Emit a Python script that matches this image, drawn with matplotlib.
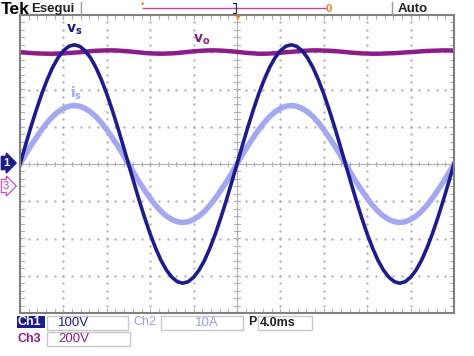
import numpy as np
import matplotlib.pyplot as plt

plt.rcParams['font.family'] = ['Liberation Sans', 'DejaVu Sans']

# scope readings, one sample per 0.5 ms (0..40 ms)
t_ms = np.arange(0, 40.01, 0.5)
vs_volt = [0, 50, 99, 145, 188, 226, 259, 285, 304, 316, 320, 316, 304, 285, 259, 226, 188, 145, 99, 50,
           0, -50, -99, -145, -188, -226, -259, -285, -304, -316, -320, -316, -304, -285, -259, -226, -188, -145, -99, -50,
           0, 50, 99, 145, 188, 226, 259, 285, 304, 316, 320, 316, 304, 285, 259, 226, 188, 145, 99, 50,
           0, -50, -99, -145, -188, -226, -259, -285, -304, -316, -320, -316, -304, -285, -259, -226, -188, -145, -99, -50,
           0]
is_amp = [0, 2.5, 4.9, 7.1, 9.2, 11.1, 12.7, 14.0, 14.9, 15.5, 15.7, 15.5, 14.9, 14.0, 12.7, 11.1, 9.2, 7.1, 4.9, 2.5,
          0, -2.5, -4.9, -7.1, -9.2, -11.1, -12.7, -14.0, -14.9, -15.5, -15.7, -15.5, -14.9, -14.0, -12.7, -11.1, -9.2, -7.1, -4.9, -2.5,
          0, 2.5, 4.9, 7.1, 9.2, 11.1, 12.7, 14.0, 14.9, 15.5, 15.7, 15.5, 14.9, 14.0, 12.7, 11.1, 9.2, 7.1, 4.9, 2.5,
          0, -2.5, -4.9, -7.1, -9.2, -11.1, -12.7, -14.0, -14.9, -15.5, -15.7, -15.5, -14.9, -14.0, -12.7, -11.1, -9.2, -7.1, -4.9, -2.5,
          0]
vo_volt = [720, 718, 716, 714, 713, 712, 712, 713, 714, 716, 718, 720, 723, 726, 728, 729, 730, 730, 729, 727,
           725, 722, 719, 716, 714, 713, 712, 713, 714, 716, 719, 722, 725, 727, 729, 730, 730, 729, 727, 725,
           722, 719, 716, 714, 712, 712, 713, 715, 717, 720, 722, 725, 727, 729, 730, 730, 729, 728, 726, 724,
           721, 718, 716, 714, 713, 712, 712, 713, 714, 715, 717, 719, 721, 723, 725, 727, 728, 729, 730, 730,
           729]

# scope settings
time_per_div = 4.0   # ms
ch1_scale = 100.0    # V/div
ch2_scale = 10.0     # A/div
ch3_scale = 200.0    # V/div
ch3_offset = -0.6    # div

c_vs = '#1c1c8e'
c_is = '#a4a8f0'
c_vo = '#8c1c8c'
c_grid = '#b0b0b0'

fig = plt.figure(figsize=(4.74, 3.56), dpi=100)
ax = fig.add_axes([20/474, 43/356, 434/474, 298/356])
ax.set_xlim(0, 10)
ax.set_ylim(-4, 4)
ax.set_xticks([])
ax.set_yticks([])
for s in ax.spines.values():
    s.set_color('#808080')
    s.set_linewidth(1.5)

# graticule dots
fine = np.arange(0, 10.01, 0.2)
fine_y = np.arange(-4, 4.01, 0.2)
for gx in range(1, 10):
    if gx != 5:
        ax.plot([gx]*len(fine_y), fine_y, ls='none', marker='o', ms=0.7, color=c_grid)
for gy in range(-3, 4):
    if gy != 0:
        ax.plot(fine, [gy]*len(fine), ls='none', marker='o', ms=0.7, color=c_grid)
# center cross with ticks
ax.plot([0, 10], [0, 0], color=c_grid, lw=0.8)
ax.plot([5, 5], [-4, 4], color=c_grid, lw=0.8)
for fx in fine:
    ax.plot([fx, fx], [-0.06, 0.06], color=c_grid, lw=0.8)
    ax.plot([fx, fx], [-4, -3.88], color=c_grid, lw=0.8)
    ax.plot([fx, fx], [4, 3.88], color=c_grid, lw=0.8)
for fy in fine_y:
    ax.plot([4.93, 5.07], [fy, fy], color=c_grid, lw=0.8)
    ax.plot([0, 0.1], [fy, fy], color=c_grid, lw=0.8)
    ax.plot([10, 9.9], [fy, fy], color=c_grid, lw=0.8)

x = np.array(t_ms) / time_per_div
ax.plot(x, np.array(vo_volt) / ch3_scale + ch3_offset, color=c_vo, lw=3.2, solid_joinstyle='round')
ax.plot(x, np.array(is_amp) / ch2_scale, color=c_is, lw=4.0, solid_joinstyle='round')
ax.plot(x, np.array(vs_volt) / ch1_scale, color=c_vs, lw=2.6, solid_joinstyle='round')

# trace labels
fig.text(66/474, 1 - 30/356, r'$\mathbf{v_s}$', color=c_vs, fontsize=10, va='center')
fig.text(193/474, 1 - 40/356, r'$\mathbf{v_o}$', color=c_vo, fontsize=10, va='center')
fig.text(70/474, 1 - 93/356, r'$\mathbf{i_s}$', color=c_is, fontsize=10, va='center')

# top bar
fig.text(1/474, 1 - 9/356, 'Tek', fontsize=12.5, fontweight='bold', va='center')
fig.text(31/474, 1 - 9/356, 'Esegui', fontsize=9.5, fontweight='bold', va='center', color='#222222')
fig.add_artist(plt.Line2D([81/474, 81/474], [1 - 2/356, 1 - 15/356], color='#999999', lw=1))
fig.add_artist(plt.Line2D([143/474, 326/474], [1 - 8/356, 1 - 8/356], color='#c040c0', lw=1))
fig.text(143/474, 1 - 4/356, '\u25bc', color='#f08020', fontsize=4, ha='center', va='center')
fig.add_artist(plt.Line2D([233/474, 236/474, 236/474, 233/474],
                          [1 - 3/356, 1 - 3/356, 1 - 13/356, 1 - 13/356], color='#333333', lw=0.9))
fig.text(329/474, 1 - 9/356, '0', color='#f08020', fontsize=8, fontweight='bold', ha='center', va='center')
fig.text(237/474, 1 - 18/356, '\u25bc', color='#f08020', fontsize=6, ha='center', va='center')
fig.add_artist(plt.Line2D([392/474, 392/474], [1 - 2/356, 1 - 15/356], color='#999999', lw=1))
fig.text(398/474, 1 - 9/356, 'Auto', fontsize=9.5, fontweight='bold', va='center', color='#222222')

# channel markers at left
fig.text(3/474, 1 - 163/356, '1', fontsize=8, fontweight='bold', color='white', va='center',
         bbox=dict(boxstyle='rarrow,pad=0.15', fc=c_vs, ec=c_vs))
fig.text(3/474, 1 - 186/356, '3', fontsize=8, color='#c040c0', va='center',
         bbox=dict(boxstyle='rarrow,pad=0.15', fc='white', ec='#c040c0', lw=0.8))

# bottom readout
def box(x0, y0, w, h):
    fig.add_artist(plt.Rectangle((x0/474, 1 - (y0 + h)/356), w/474, h/356,
                                 fill=False, ec='#c8c8c8', lw=1))

fig.add_artist(plt.Rectangle((17/474, 1 - 328/356), 28/474, 12/356, fc=c_vs, ec='none'))
fig.text(18/474, 1 - 322/356, 'Ch1', fontsize=9, fontweight='bold', color='white', va='center')
box(47, 316, 81, 14)
fig.text(58/474, 1 - 323/356, '100V', fontsize=9.5, color=c_vs, va='center')
fig.text(133/474, 1 - 322/356, 'Ch2', fontsize=9, color='#98a0ec', va='center')
box(161, 316, 82, 14)
fig.text(195/474, 1 - 323/356, '10A', fontsize=9.5, color='#98a0ec', va='center')
fig.text(248/474, 1 - 322/356, 'P', fontsize=9, fontweight='bold', color='#222222', va='center')
box(258, 316, 54, 14)
fig.text(260/474, 1 - 323/356, '4.0ms', fontsize=9, fontweight='bold', color='#222222', va='center')
fig.text(17/474, 1 - 339/356, 'Ch3', fontsize=9, fontweight='bold', color=c_vo, va='center')
box(47, 332, 83, 14)
fig.text(58/474, 1 - 339/356, '200V', fontsize=9.5, color=c_vo, va='center')

fig.savefig('out.png', dpi=100)
